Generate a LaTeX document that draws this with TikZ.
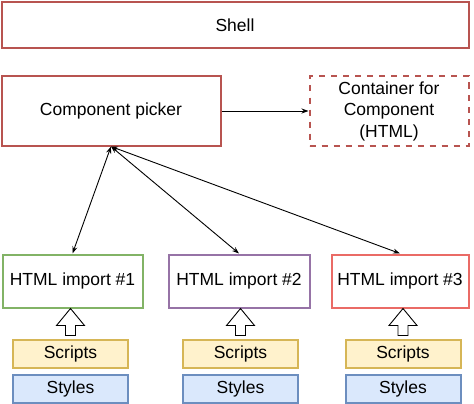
\documentclass[tikz,border=0pt]{standalone}
\usepackage{fontspec}
\setmainfont{Liberation Sans}
\usetikzlibrary{arrows.meta,positioning}
\definecolor{dred}{HTML}{B85450}
\definecolor{lred}{HTML}{EA6B66}
\definecolor{dgreen}{HTML}{82B366}
\definecolor{dpurple}{HTML}{9673A6}
\definecolor{ybord}{HTML}{D6B656}
\definecolor{yfill}{HTML}{FFF2CC}
\definecolor{bbord}{HTML}{6C8EBF}
\definecolor{bfill}{HTML}{DAE8FC}
\tikzset{
  box/.style={draw, line width=2pt, fill=white, inner sep=0pt, align=center,
    font=\fontsize{17.5}{21.5}\selectfont},
  scriptbox/.style={box, draw=ybord, fill=yfill, minimum width=115pt, minimum height=28pt},
  stylebox/.style={box, draw=bbord, fill=bfill, minimum width=115pt, minimum height=28pt},
  conn/.style={line width=0.9pt, {Stealth[length=7pt,width=5pt]}-{Stealth[length=7pt,width=5pt]}},
  oneway/.style={line width=0.9pt, -{Stealth[length=7pt,width=5pt]}},
  blockarrow/.style={draw=black, fill=white, line width=0.9pt, line join=miter}
}
\begin{document}
\begin{tikzpicture}[x=1pt,y=-1pt]
\useasboundingbox (0,0) rectangle (474,404);
\node[box, draw=dred, minimum width=467pt, minimum height=46pt] (shell) at (235,25.5) {Shell};
\node[box, draw=dred, minimum width=219pt, minimum height=69pt] (picker) at (111,111) {Component picker};
\node[box, draw=dred, dashed, dash pattern=on 6pt off 6pt, minimum width=159pt, minimum height=69pt] (cont) at (389,111) {Container for\\Component\\(HTML)};
\node[box, draw=dgreen, minimum width=140pt, minimum height=53pt] (imp1) at (72.5,281) {HTML import \#1};
\node[box, draw=dpurple, minimum width=141pt, minimum height=53pt] (imp2) at (239,281) {HTML import \#2};
\node[box, draw=lred, minimum width=137pt, minimum height=53pt] (imp3) at (400,281) {HTML import \#3};
\node[scriptbox] (sc1) at (70.5,354) {Scripts};
\node[stylebox] (st1) at (70.5,389) {Styles};
\node[scriptbox] (sc2) at (240.5,354) {Scripts};
\node[stylebox] (st2) at (240.5,389) {Styles};
\node[scriptbox] (sc3) at (403,354) {Scripts};
\node[stylebox] (st3) at (403,389) {Styles};
\draw[oneway] (picker.east) -- (cont.west);
\draw[conn] (picker.south) -- (imp1.north);
\draw[conn] (picker.south) -- (imp2.north);
\draw[conn] (picker.south) -- (imp3.north);
\foreach \s/\i in {sc1/imp1, sc2/imp2, sc3/imp3}{
  \path (\s.north |- \i.south) coordinate (t);
  \draw[blockarrow] (t) -- ++(14,17) -- ++(-9,0) -- ++(0,10) -- ++(-10,0) -- ++(0,-10) -- ++(-9,0) -- cycle;
}
\end{tikzpicture}
\end{document}
